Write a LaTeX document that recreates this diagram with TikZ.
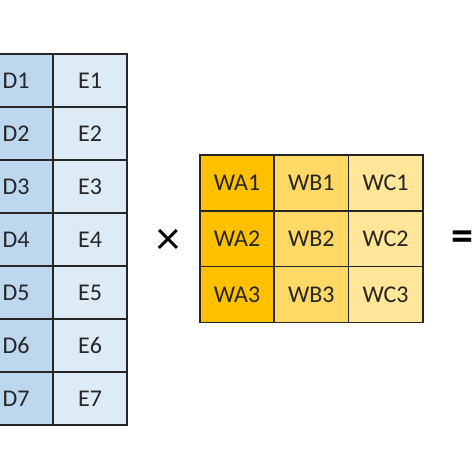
\documentclass[tikz,border=0pt]{standalone}
\usepackage{fontspec}
\setmainfont{Carlito}
\definecolor{dblue}{HTML}{BDD7EE}
\definecolor{eblue}{HTML}{DDEBF7}
\definecolor{waorange}{HTML}{FFC000}
\definecolor{wbyellow}{HTML}{FFD966}
\definecolor{wcyellow}{HTML}{FFE699}
\tikzset{
	cell/.style={draw=black!85, line width=1.5pt, inner sep=0pt, outer sep=0pt,
		text=black!85, font=\fontsize{24}{28}\selectfont},
	dcell/.style={cell, fill=dblue, minimum width=74pt, minimum height=53pt},
	wcell/.style={cell, minimum width=74.3pt, minimum height=55.7pt},
	sign/.style={text=black, inner sep=0pt}
}

\begin{document}
\begin{tikzpicture}[x=1pt,y=-1pt]
	\useasboundingbox (0,0) rectangle (474,474);
	% left table
	\foreach \r in {1,...,7} {
		\node [dcell] (D\r) at (16,{80.5+53*(\r-1)}) {D\r};
		\node [dcell, fill=eblue] (E\r) at (90,{80.5+53*(\r-1)}) {E\r};
	}
	% weights
	\foreach \r in {1,2,3} {
		\node [wcell, fill=waorange] (WA\r) at (237,{183+55.7*(\r-1)}) {WA\r};
		\node [wcell, fill=wbyellow] (WB\r) at (311.3,{183+55.7*(\r-1)}) {WB\r};
		\node [wcell, fill=wcyellow] (WC\r) at (385.6,{183+55.7*(\r-1)}) {WC\r};
	}
	\node [sign, font=\fontsize{48}{48}\selectfont] (times) at (168,242) {×};
	\node [sign, font=\bfseries\fontsize{44}{44}\selectfont] (equals) at (462,241) {=};
\end{tikzpicture}
\end{document}
